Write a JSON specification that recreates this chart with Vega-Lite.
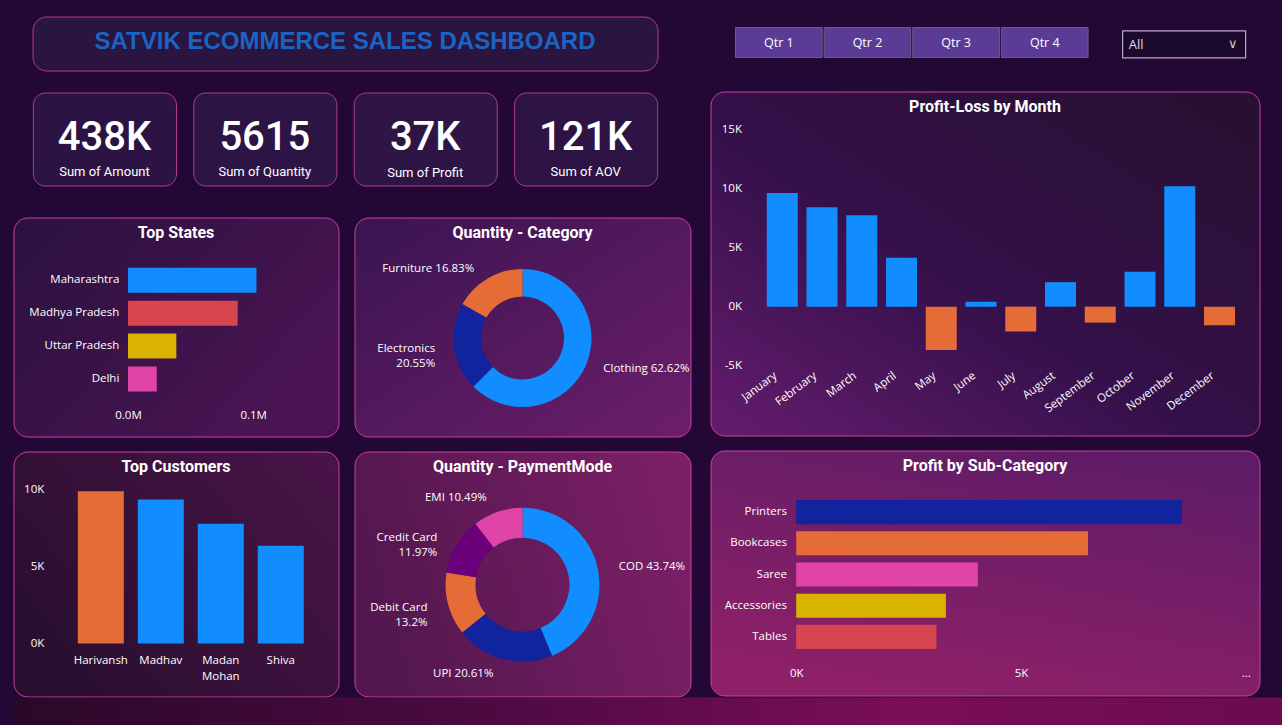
{
  "$schema": "https://vega.github.io/schema/vega-lite/v6.json",
  "background": "#230836",
  "padding": {"left": 12.5, "top": 15.5, "right": 0, "bottom": 0},
  "config": {
    "view": {"stroke": null},
    "font": "Open Sans",
    "axis": {"domain": false, "ticks": false, "grid": false, "labelColor": "#ffffff", "labelFont": "Open Sans", "labelFontSize": 11.5, "labelPadding": 2, "labelFlush": false, "labelOverlap": false, "labelBound": false},
    "title": {"color": "#ffffff", "font": "Roboto", "fontSize": 16, "fontWeight": "bold", "anchor": "middle", "frame": "group"},
    "text": {"color": "#ffffff", "font": "Open Sans"}
  },
  "resolve": {"scale": {"color": "independent", "theta": "independent"}},
  "spacing": 0,
  "vconcat": [
    {
      "spacing": 18,
      "resolve": {"scale": {"color": "independent", "theta": "independent"}},
      "hconcat": [
        {
          "spacing": 30,
          "resolve": {"scale": {"color": "independent", "theta": "independent"}},
          "vconcat": [
            {
              "spacing": 20,
              "vconcat": [
                {
                  "spacing": 17,
                  "hconcat": [
                    {"width": 1, "height": 1, "data": {"values": []}, "mark": "rect"},
                    {
                      "width": 625, "height": 54,
                      "view": {"stroke": "#b23a93", "strokeWidth": 1, "cornerRadius": 14, "fill": "#2a1540"},
                      "data": {"values": [{"title": "SATVIK ECOMMERCE SALES DASHBOARD"}]},
                      "mark": {"type": "text", "font": "Liberation Sans", "fontWeight": "bold", "fontSize": 24, "color": "#1b64c4", "baseline": "alphabetic", "dy": 5.5},
                      "encoding": {"text": {"field": "title"}}
                    }
                  ]
                },
                {
                  "spacing": 15.4,
                  "hconcat": [
                    {"width": 2.5, "height": 1, "data": {"values": []}, "mark": "rect"},
                    {
                      "width": 143.1, "height": 93,
                      "view": {"stroke": "#b23a93", "cornerRadius": 12, "fill": "#2b1443"},
                      "data": {"values": [{"value": "438K", "label": "Sum of Amount"}]},
                      "layer": [
                        {"mark": {"type": "text", "font": "Roboto", "fontSize": 40, "fontWeight": 500, "baseline": "alphabetic", "dy": 10.5}, "encoding": {"text": {"field": "value"}}},
                        {"mark": {"type": "text", "font": "Roboto", "fontSize": 13, "baseline": "alphabetic", "dy": 37}, "encoding": {"text": {"field": "label"}}}
                      ]
                    },
                    {
                      "width": 143.1, "height": 93,
                      "view": {"stroke": "#b23a93", "cornerRadius": 12, "fill": "#2c1444"},
                      "data": {"values": [{"value": "5615", "label": "Sum of Quantity"}]},
                      "layer": [
                        {"mark": {"type": "text", "font": "Roboto", "fontSize": 40, "fontWeight": 500, "baseline": "alphabetic", "dy": 10.5}, "encoding": {"text": {"field": "value"}}},
                        {"mark": {"type": "text", "font": "Roboto", "fontSize": 13, "baseline": "alphabetic", "dy": 37}, "encoding": {"text": {"field": "label"}}}
                      ]
                    },
                    {
                      "width": 143.1, "height": 93,
                      "view": {"stroke": "#b23a93", "cornerRadius": 12, "fill": "#2e1546"},
                      "data": {"values": [{"value": "37K", "label": "Sum of Profit"}]},
                      "layer": [
                        {"mark": {"type": "text", "font": "Roboto", "fontSize": 40, "fontWeight": 500, "baseline": "alphabetic", "dy": 10.5}, "encoding": {"text": {"field": "value"}}},
                        {"mark": {"type": "text", "font": "Roboto", "fontSize": 13, "baseline": "alphabetic", "dy": 38}, "encoding": {"text": {"field": "label"}}}
                      ]
                    },
                    {
                      "width": 143.1, "height": 93,
                      "view": {"stroke": "#b23a93", "cornerRadius": 12, "fill": "#2e1444"},
                      "data": {"values": [{"value": "121K", "label": "Sum of AOV"}]},
                      "layer": [
                        {"mark": {"type": "text", "font": "Roboto", "fontSize": 40, "fontWeight": 500, "baseline": "alphabetic", "dy": 10.5}, "encoding": {"text": {"field": "value"}}},
                        {"mark": {"type": "text", "font": "Roboto", "fontSize": 13, "baseline": "alphabetic", "dy": 37}, "encoding": {"text": {"field": "label"}}}
                      ]
                    }
                  ]
                }
              ]
            },
            {
              "spacing": 13,
              "resolve": {"scale": {"color": "independent", "theta": "independent"}},
              "vconcat": [
                {
                  "spacing": 14,
                  "resolve": {"scale": {"color": "independent", "theta": "independent"}},
                  "hconcat": [
                    {
                      "width": 325, "height": 219,
                      "view": {"stroke": "#c8409f", "cornerRadius": 14, "fill": {"gradient": "linear", "x1": 0, "y1": 0, "x2": 1, "y2": 0.6, "stops": [{"offset": 0, "color": "#2b1140"}, {"offset": 1, "color": "#4a1452"}]}},
                      "title": {"text": "Top States", "offset": -23.5},
                      "data": {"values": [
                        {"state": "Maharashtra", "amount": 102600},
                        {"state": "Madhya Pradesh", "amount": 87600},
                        {"state": "Uttar Pradesh", "amount": 38600},
                        {"state": "Delhi", "amount": 23000}
                      ]},
                      "mark": {"type": "bar"},
                      "encoding": {
                        "y": {"field": "state", "type": "nominal", "sort": ["Maharashtra", "Madhya Pradesh", "Uttar Pradesh", "Delhi"], "scale": {"range": [46.35, 177.95], "paddingInner": 0.24, "paddingOuter": 0.12}, "axis": {"offset": -107.3, "title": null}},
                        "x": {"field": "amount", "type": "quantitative", "scale": {"domain": [0, 100000], "range": [114.5, 239.7], "nice": false}, "axis": {"offset": -29, "values": [0, 100000], "labelExpr": "format(datum.value / 1000000, '.1f') + 'M'", "title": null}},
                        "color": {"field": "state", "type": "nominal", "scale": {"domain": ["Maharashtra", "Madhya Pradesh", "Uttar Pradesh", "Delhi"], "range": ["#118DFF", "#D64550", "#D9B300", "#E044A7"]}, "legend": null}
                      }
                    },
                    {
                      "width": 336, "height": 219,
                      "view": {"stroke": "#c8409f", "cornerRadius": 14, "fill": {"gradient": "linear", "x1": 0, "y1": 0, "x2": 1, "y2": 1, "stops": [{"offset": 0, "color": "#3a1450"}, {"offset": 1, "color": "#6c1e6c"}]}},
                      "title": {"text": "Quantity - Category", "offset": -23.5},
                      "data": {"values": [
                        {"category": "Clothing", "pct": 62.62, "label": "Clothing 62.62%"},
                        {"category": "Electronics", "pct": 20.55, "label": "Electronics\n20.55%"},
                        {"category": "Furniture", "pct": 16.83, "label": "Furniture 16.83%"}
                      ]},
                      "encoding": {
                        "theta": {"field": "pct", "type": "quantitative", "stack": true},
                        "order": {"field": "pct", "sort": "descending"},
                        "detail": {"field": "category"},
                        "color": {"field": "category", "type": "nominal", "scale": {"domain": ["Clothing", "Electronics", "Furniture"], "range": ["#118DFF", "#12239E", "#E66C37"]}, "legend": null}
                      },
                      "layer": [
                        {"mark": {"type": "arc", "outerRadius": 69, "innerRadius": 41.5, "yOffset": 11}},
                        {"mark": {"type": "text", "radius": 80, "yOffset": 11, "fontSize": 11.5, "lineBreak": "\n", "lineHeight": 15, "baseline": "middle", "align": {"expr": "(datum.pct_start + datum.pct_end) / 2 > 50 ? 'right' : 'left'"}, "dx": {"expr": "(datum.pct_start + datum.pct_end) / 2 > 50 ? -8 : 7"}}, "encoding": {"text": {"field": "label"}, "color": {"value": "#ffffff"}}}
                      ]
                    }
                  ]
                },
                {
                  "spacing": 14,
                  "resolve": {"scale": {"color": "independent", "theta": "independent"}},
                  "hconcat": [
                    {
                      "width": 325, "height": 245,
                      "view": {"stroke": "#c8409f", "cornerRadius": 14, "fill": {"gradient": "linear", "x1": 0, "y1": 0.6, "x2": 1, "y2": 0, "stops": [{"offset": 0, "color": "#2a0f30"}, {"offset": 1, "color": "#4a1448"}]}},
                      "title": {"text": "Top Customers", "offset": -23.5},
                      "data": {"values": [
                        {"customer": "Harivansh", "amount": 9890},
                        {"customer": "Madhav", "amount": 9350},
                        {"customer": "Madan Mohan", "amount": 7770},
                        {"customer": "Shiva", "amount": 6340}
                      ]},
                      "mark": {"type": "bar"},
                      "encoding": {
                        "x": {"field": "customer", "type": "nominal", "sort": ["Harivansh", "Madhav", "Madan Mohan", "Shiva"], "scale": {"range": [57.3, 297.3], "paddingInner": 0.233, "paddingOuter": 0.117}, "axis": {"offset": -44, "labelAngle": 0, "labelExpr": "split(datum.label, ' ')", "labelLineHeight": 16, "title": null}},
                        "y": {"field": "amount", "type": "quantitative", "scale": {"domain": [0, 10000], "range": [192, 38], "nice": false}, "axis": {"offset": -32.3, "values": [0, 5000, 10000], "labelExpr": "datum.value / 1000 + 'K'", "title": null}},
                        "color": {"field": "customer", "type": "nominal", "scale": {"domain": ["Harivansh", "Madhav", "Madan Mohan", "Shiva"], "range": ["#E66C37", "#118DFF", "#118DFF", "#118DFF"]}, "legend": null}
                      }
                    },
                    {
                      "width": 336, "height": 245,
                      "view": {"stroke": "#c8409f", "cornerRadius": 14, "fill": {"gradient": "linear", "x1": 0, "y1": 0.5, "x2": 1, "y2": 0.3, "stops": [{"offset": 0, "color": "#52174e"}, {"offset": 1, "color": "#7c1f66"}]}},
                      "title": {"text": "Quantity - PaymentMode", "offset": -23.5},
                      "data": {"values": [
                        {"mode": "COD", "pct": 43.74, "label": "COD 43.74%"},
                        {"mode": "UPI", "pct": 20.61, "label": "UPI 20.61%"},
                        {"mode": "Debit Card", "pct": 13.2, "label": "Debit Card\n13.2%"},
                        {"mode": "Credit Card", "pct": 11.97, "label": "Credit Card\n11.97%"},
                        {"mode": "EMI", "pct": 10.49, "label": "EMI 10.49%"}
                      ]},
                      "encoding": {
                        "theta": {"field": "pct", "type": "quantitative", "stack": true},
                        "order": {"field": "pct", "sort": "descending"},
                        "detail": {"field": "mode"},
                        "color": {"field": "mode", "type": "nominal", "scale": {"domain": ["COD", "UPI", "Debit Card", "Credit Card", "EMI"], "range": ["#118DFF", "#12239E", "#E66C37", "#6B007B", "#E044A7"]}, "legend": null}
                      },
                      "layer": [
                        {"mark": {"type": "arc", "outerRadius": 77, "innerRadius": 47, "yOffset": 10.7}},
                        {"mark": {"type": "text", "radius": 92, "yOffset": 10.7, "fontSize": 11.5, "lineBreak": "\n", "lineHeight": 15, "baseline": "middle", "align": {"expr": "(datum.pct_start + datum.pct_end) / 2 > 50 ? 'right' : 'left'"}, "dx": {"expr": "(datum.pct_start + datum.pct_end) / 2 > 50 ? -6 : 6"}}, "encoding": {"text": {"field": "label"}, "color": {"value": "#ffffff"}}}
                      ]
                    }
                  ]
                }
              ]
            }
          ]
        },
        {
          "spacing": 22,
          "resolve": {"scale": {"color": "independent", "theta": "independent"}},
          "vconcat": [
            {
              "spacing": 9,
              "vconcat": [
                {"width": 1, "height": 1, "data": {"values": []}, "mark": "rect"},
                {
                  "spacing": 31.8,
                  "hconcat": [
                    {
                      "width": 377.6, "height": 30,
                      "data": {"values": [{"q": "Qtr 1"}, {"q": "Qtr 2"}, {"q": "Qtr 3"}, {"q": "Qtr 4"}]},
                      "encoding": {"x": {"field": "q", "type": "nominal", "scale": {"range": [25, 377.6], "paddingInner": 0.022, "paddingOuter": 0}, "axis": null}},
                      "layer": [
                        {"mark": {"type": "rect", "fill": "#5a3c97", "stroke": "#6c5c84", "strokeWidth": 1}},
                        {"mark": {"type": "text", "fontSize": 12.5, "baseline": "middle"}, "encoding": {"text": {"field": "q"}}}
                      ]
                    },
                    {
                      "spacing": 1,
                      "vconcat": [
                        {"width": 1, "height": 1, "data": {"values": []}, "mark": "rect"},
                        {
                          "width": 123, "height": 27,
                          "view": {"stroke": "#b9a9c9", "strokeWidth": 1.2, "fill": "#1c0a2e"},
                          "data": {"values": [{"sel": "All"}]},
                          "layer": [
                            {"mark": {"type": "text", "align": "left", "baseline": "middle", "dx": -55, "dy": 1, "fontSize": 13, "color": "#dddddd"}, "encoding": {"text": {"field": "sel"}}},
                            {"mark": {"type": "text", "text": "∨", "font": "DejaVu Sans", "baseline": "middle", "dx": 49, "fontSize": 13, "color": "#cccccc"}, "encoding": {}}
                          ]
                        }
                      ]
                    }
                  ]
                },
                {"width": 1, "height": 1, "data": {"values": []}, "mark": "rect"}
              ]
            },
            {
              "spacing": 13,
              "resolve": {"scale": {"color": "independent", "theta": "independent"}},
              "vconcat": [
                {
                  "width": 549, "height": 344,
                  "view": {"stroke": "#c8409f", "cornerRadius": 14, "fill": {"gradient": "linear", "x1": 1, "y1": 0, "x2": 0, "y2": 1, "stops": [{"offset": 0, "color": "#27102f"}, {"offset": 0.55, "color": "#34104a"}, {"offset": 1, "color": "#651c6e"}]}},
                  "title": {"text": "Profit-Loss by Month", "offset": -23.5},
                  "data": {"values": [
                    {"month": "January", "profit": 9600},
                    {"month": "February", "profit": 8400},
                    {"month": "March", "profit": 7730},
                    {"month": "April", "profit": 4140},
                    {"month": "May", "profit": -3670},
                    {"month": "June", "profit": 420},
                    {"month": "July", "profit": -2100},
                    {"month": "August", "profit": 2070},
                    {"month": "September", "profit": -1350},
                    {"month": "October", "profit": 2940},
                    {"month": "November", "profit": 10170},
                    {"month": "December", "profit": -1570}
                  ]},
                  "mark": {"type": "bar"},
                  "encoding": {
                    "x": {"field": "month", "type": "nominal", "sort": ["January", "February", "March", "April", "May", "June", "July", "August", "September", "October", "November", "December"], "scale": {"range": [51.9, 528.9], "paddingInner": 0.22, "paddingOuter": 0.11}, "axis": {"labelAngle": -37, "offset": -68, "labelOffset": -10, "title": null}},
                    "y": {"field": "profit", "type": "quantitative", "scale": {"domain": [-5000, 15000], "range": [274.3, 37.7], "nice": false}, "axis": {"offset": -33, "values": [-5000, 0, 5000, 10000, 15000], "labelExpr": "datum.value / 1000 + 'K'", "title": null}},
                    "color": {"condition": {"test": "datum.profit < 0", "value": "#E66C37"}, "value": "#118DFF"}
                  }
                },
                {
                  "width": 549, "height": 245,
                  "view": {"stroke": "#c8409f", "cornerRadius": 14, "fill": {"gradient": "linear", "x1": 0.8, "y1": 0, "x2": 0.4, "y2": 1, "stops": [{"offset": 0, "color": "#5e1c66"}, {"offset": 1, "color": "#8e2068"}]}},
                  "title": {"text": "Profit by Sub-Category", "offset": -23.5},
                  "data": {"values": [
                    {"subcat": "Printers", "profit": 8580},
                    {"subcat": "Bookcases", "profit": 6490},
                    {"subcat": "Saree", "profit": 4040},
                    {"subcat": "Accessories", "profit": 3330},
                    {"subcat": "Tables", "profit": 3120}
                  ]},
                  "mark": {"type": "bar"},
                  "encoding": {
                    "y": {"field": "subcat", "type": "nominal", "sort": ["Printers", "Bookcases", "Saree", "Accessories", "Tables"], "scale": {"range": [45.9, 202.1], "paddingInner": 0.225, "paddingOuter": 0.1125}, "axis": {"offset": -77.9, "title": null}},
                    "x": {"field": "profit", "type": "quantitative", "scale": {"domain": [0, 10000], "range": [85.7, 535.3], "nice": false}, "axis": {"offset": -30.5, "values": [0, 5000, 10000], "labelExpr": "datum.value >= 10000 ? '...' : datum.value / 1000 + 'K'", "title": null}},
                    "color": {"field": "subcat", "type": "nominal", "scale": {"domain": ["Printers", "Bookcases", "Saree", "Accessories", "Tables"], "range": ["#12239E", "#E66C37", "#E044A7", "#D9B300", "#D64550"]}, "legend": null}
                  }
                }
              ]
            }
          ]
        }
      ]
    },
    {
      "width": 1269.5, "height": 30,
      "view": {"fill": {"gradient": "linear", "x1": 0, "y1": 0, "x2": 1, "y2": 0, "stops": [{"offset": 0, "color": "#2a0828"}, {"offset": 0.35, "color": "#4a0a40"}, {"offset": 0.7, "color": "#7a0e55"}, {"offset": 1, "color": "#6a0c4e"}]}},
      "data": {"values": []},
      "mark": "rect"
    }
  ]
}
